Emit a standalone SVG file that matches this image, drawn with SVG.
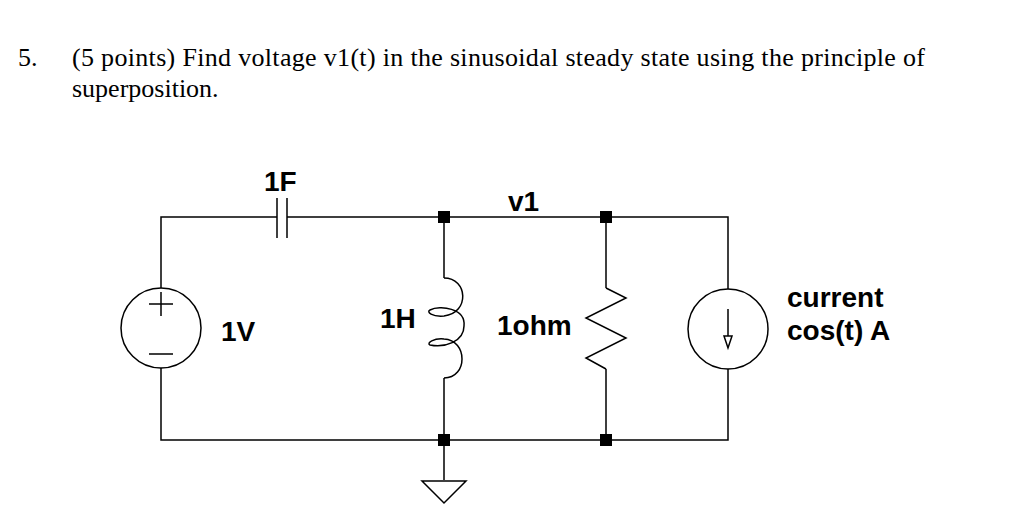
<svg xmlns="http://www.w3.org/2000/svg" width="1024" height="522" viewBox="0 0 1024 522">
<style>
.w{stroke:#000;stroke-width:1.5;fill:none}
.t{font-family:"Liberation Serif",serif;font-size:26px}
.l{font-family:"Liberation Sans",Arial,sans-serif;font-size:28px;font-weight:bold}
</style>
<rect width="1024" height="522" fill="#fff"/>
<text class="t" x="18" y="66">5.</text>
<text class="t" x="72" y="66" textLength="853" lengthAdjust="spacing">(5 points)  Find voltage v1(t) in the sinusoidal steady state using the principle of</text>
<text class="t" x="72" y="97">superposition.</text>
<g id="wires">
<path class="w" d="M161,288 V217 H277 M287,217 H728 V289 M161,368 V440 H728 V369 M444,217 V278 M444,378 V480 M606,217 V288 M606,369 V440"/>
</g>
<g id="V1"><circle class="w" cx="161" cy="328" r="40"/><path class="w" d="M149,304 H173 M161,292 V316 M149,354 H173"/><text class="l" x="221" y="341">1V</text></g>
<g id="C1"><path class="w" d="M277,198 V238 M287,198 V238"/><text class="l" x="264" y="191">1F</text></g>
<g id="L1"><path class="w" d="M444,278 C468,278 470,313 444,316 C432,317 426,312 430,310 C440,305 466,308 464,326 C464,342 444,348 430,345 C426,343 434,338 444,339 C468,340 468,378 444,378"/><text class="l" x="380" y="328">1H</text></g>
<g id="R1"><path class="w" d="M606,288 L626,298 L586,318 L626,338 L586,358 L606,369"/><text class="l" x="497" y="335">1ohm</text></g>
<g id="I1"><circle class="w" cx="728" cy="329" r="40"/><path class="w" d="M728,309 V336 M724,336 H732 L728,348 Z"/><text class="l" x="787" y="307">current</text><text class="l" x="787" y="340">cos(t) A</text></g>
<g id="nodes"><rect x="438" y="211" width="12" height="12"/><rect x="600" y="211" width="12" height="12"/><rect x="438" y="434" width="12" height="12"/><rect x="600" y="434" width="12" height="12"/><text class="l" x="508" y="211">v1</text></g>
<g id="gnd"><path class="w" d="M422,481 H466 L444,503 Z"/></g>
</svg>
